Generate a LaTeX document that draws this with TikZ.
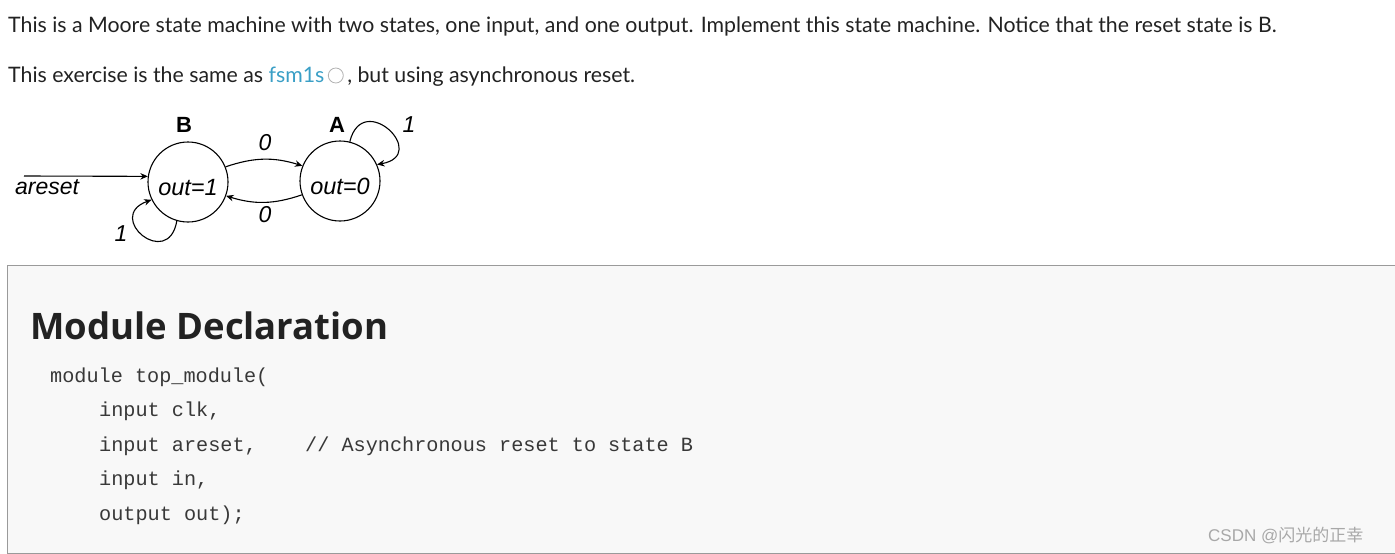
\documentclass[tikz,border=0pt]{standalone}
\usepackage{fontspec}
\setmainfont{Lato}
\setsansfont{Liberation Sans}
\setmonofont{Liberation Mono}
\newfontfamily\headfont{Open Sans}
\newfontfamily\cjk{Noto Sans CJK SC}
\usetikzlibrary{arrows.meta}
\definecolor{txt}{HTML}{222222}
\definecolor{linkc}{HTML}{3A9FC6}
\definecolor{boxbg}{HTML}{F8F8F8}
\definecolor{boxline}{HTML}{9A9A9A}
\definecolor{wm}{HTML}{A8A8A8}
\tikzset{
  para/.style={anchor=base west, inner sep=0pt, text=txt, font=\fontsize{21.3}{24}\selectfont},
  code/.style={anchor=base west, inner sep=0pt, text=txt!90, font=\ttfamily\fontsize{20.2}{24}\selectfont},
  state/.style={circle, draw, line width=1.1pt, minimum size=80pt, inner sep=0pt, font=\sffamily\itshape\fontsize{23.5}{24}\selectfont},
  slabel/.style={inner sep=0pt, font=\sffamily\bfseries\fontsize{22}{22}\selectfont},
  elabel/.style={inner sep=0pt, font=\sffamily\itshape\fontsize{23}{24}\selectfont},
  trans/.style={line width=1.1pt, -{Stealth[length=7.5pt,width=6.5pt]}},
}
\begin{document}
\begin{tikzpicture}[x=1pt,y=-1pt]
\useasboundingbox (0,0) rectangle (1395,554);
\fill[white] (0,0) rectangle (1395,554);
% text
\node[para] (l1) at (8,32) {This is a Moore state machine with two states, one input, and one output. Implement this state machine. Notice that the reset state is B.};
\node[para] (l2) at (8,82) {This exercise is the same as \textcolor{linkc}{fsm1s}\,\tikz[baseline=0pt]\draw[gray!60,line width=0.8pt] (0,6.5pt) circle (7.5pt);\,, but using asynchronous reset.};
% diagram
\node[state] (B) at (188,182) {\raisebox{-13pt}[0pt][0pt]{out=1}};
\node[state] (A) at (340,181) {\raisebox{-13pt}[0pt][0pt]{out=0}};
\node[slabel] (lb) at (184,125) {B};
\node[slabel] (la) at (337,125) {A};
\coordinate (rs) at (24,176);
\draw[trans] (rs) -- (B.172);
\node[elabel, anchor=base west] (ar) at (15,194) {areset};
\draw[trans] (B.22) to[bend left=18] (A.158);
\draw[trans] (A.200) to[bend left=18] (B.-20);
\node[elabel] (z1) at (265,143) {0};
\node[elabel] (z2) at (265,215) {0};
\draw[trans] (A.76) to[out=76,in=10,looseness=3.9] (A.24);
\node[elabel] (o1) at (409,125) {1};
\draw[trans] (B.-106) to[out=-100,in=200,looseness=3.9] (B.206);
\node[elabel] (o2) at (121,234) {1};
% box
\fill[boxbg] (7,265) rectangle (1396,553);
\draw[boxline, line width=1pt] (1396,265) -- (7,265) -- (7,553) -- (1396,553);
\node[anchor=base west, inner sep=0pt, text=txt, font=\headfont\bfseries\fontsize{36.5}{40}\selectfont] (hd) at (30,339) {Module Declaration};
\node[code] (c1) at (50,382) {module top\_module(};
\node[code] (c2) at (99,416) {input clk,};
\node[code] (c3) at (99,451) {input areset,\ \ \ \ // Asynchronous reset to state B};
\node[code] (c4) at (99,485) {input in,};
\node[code] (c5) at (99,520) {output out);};
\node[anchor=base west, inner sep=0pt, text=wm, font=\sffamily\fontsize{17}{20}\selectfont] (wmk) at (1208,541) {CSDN @{\cjk 闪光的正幸}};
\end{tikzpicture}
\end{document}
